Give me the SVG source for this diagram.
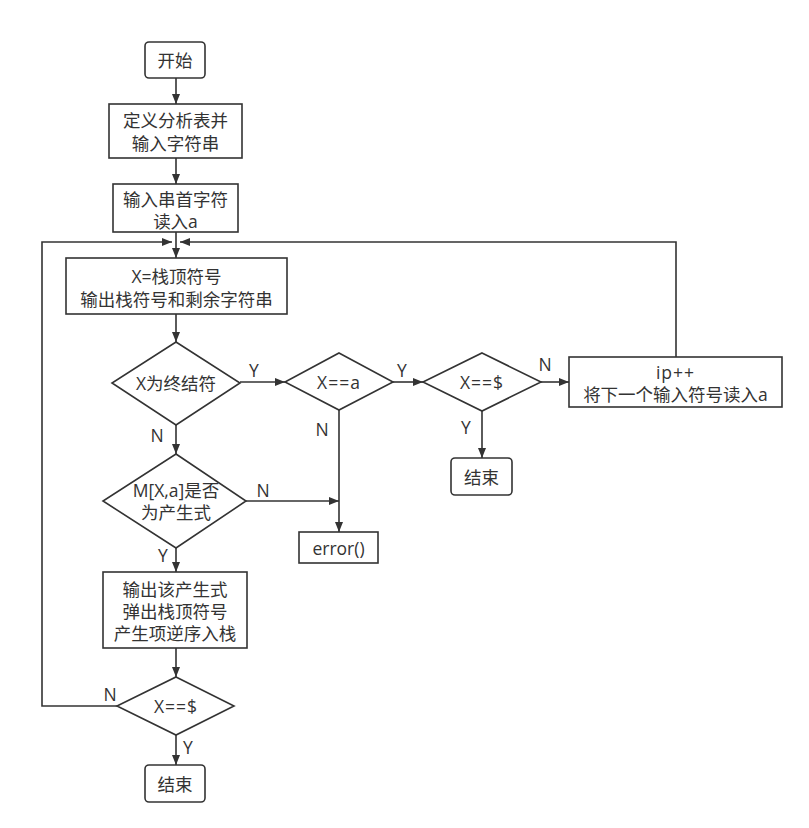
<svg xmlns="http://www.w3.org/2000/svg" width="809" height="828" viewBox="0 0 809 828">
<defs>
<marker id="ah" markerWidth="10" markerHeight="8" refX="10" refY="4" orient="auto" markerUnits="userSpaceOnUse">
<path d="M0,0 L10,4 L0,8 Z" fill="#333"/>
</marker>
<style>
.n{fill:#fff;stroke:#333;stroke-width:1.6}
.t{font-family:"Open Sans","Noto Sans CJK SC",sans-serif;font-size:17.5px;fill:#333;text-anchor:middle;dominant-baseline:central}
.l{letter-spacing:1px}
.c{fill:none;stroke:#333;stroke-width:1.6}
.a{marker-end:url(#ah)}
</style>
</defs>
<rect width="809" height="828" fill="#fff"/>
<g id="start"><rect class="n" x="145" y="42" width="60" height="36" rx="4"/><text class="t" x="175" y="60">开始</text></g>
<g id="define"><rect class="n" x="109" y="104" width="133" height="54"/><text class="t" x="175.5" y="120">定义分析表并</text><text class="t" x="175.5" y="143">输入字符串</text></g>
<g id="readfirst"><rect class="n" x="113" y="184" width="125" height="48"/><text class="t" x="175.5" y="199">输入串首字符</text><text class="t" x="175.5" y="221">读入a</text></g>
<g id="top"><rect class="n" x="66" y="258" width="221" height="56"/><text class="t" x="176.5" y="276">X=栈顶符号</text><text class="t" x="176.5" y="299">输出栈符号和剩余字符串</text></g>
<g id="isterm"><polygon class="n" points="176,342 240,383 176,425 112,383"/><text class="t" x="176" y="383">X为终结符</text></g>
<g id="eqa"><polygon class="n" points="339,353 393,382 339,410 285,382"/><text class="t l" x="339" y="382">X==a</text></g>
<g id="eqdollar1"><polygon class="n" points="482,353 541,382 482,411 423,382"/><text class="t l" x="482" y="382">X==$</text></g>
<g id="next"><rect class="n" x="569" y="357" width="213" height="50"/><text class="t l" x="675.5" y="372">ip++</text><text class="t" x="675.5" y="394">将下一个输入符号读入a</text></g>
<g id="end1"><rect class="n" x="451" y="458" width="61" height="37" rx="4"/><text class="t" x="481.5" y="476.5">结束</text></g>
<g id="isprod"><polygon class="n" points="176,454 246,501 176,548 103,501"/><text class="t" x="176" y="490">M[X,a]是否</text><text class="t" x="176" y="512">为产生式</text></g>
<g id="error"><rect class="n" x="299" y="532" width="79" height="31"/><text class="t" x="338.5" y="547.5">error()</text></g>
<g id="output"><rect class="n" x="103" y="572" width="144" height="76"/><text class="t" x="175" y="589">输出该产生式</text><text class="t" x="175" y="611">弹出栈顶符号</text><text class="t" x="175" y="633">产生项逆序入栈</text></g>
<g id="eqdollar2"><polygon class="n" points="176,677 234,706 176,735 117,706"/><text class="t l" x="176" y="706">X==$</text></g>
<g id="end2"><rect class="n" x="145" y="765" width="60" height="37" rx="4"/><text class="t" x="175" y="783.5">结束</text></g>
<g id="connectors">
<path class="c a" d="M176,78 V104"/>
<path class="c a" d="M176,158 V184"/>
<path class="c" d="M176,232 V242"/>
<path class="c a" d="M176,242 V258"/>
<path class="c a" d="M176,314 V342"/>
<path class="c a" d="M240,382 H285"/>
<path class="c a" d="M393,382 H423"/>
<path class="c a" d="M541,382 H569"/>
<path class="c a" d="M676,357 V242 H180"/>
<path class="c a" d="M482,411 V458"/>
<path class="c a" d="M176,425 V454"/>
<path class="c a" d="M339,410 V532"/>
<path class="c a" d="M246,501 H339"/>
<path class="c a" d="M176,548 V572"/>
<path class="c a" d="M176,648 V677"/>
<path class="c a" d="M117,706 H42 V242 H172"/>
<path class="c a" d="M176,735 V765"/>
</g>
<g id="labels">
<text class="t" x="254" y="370">Y</text>
<text class="t" x="402" y="370">Y</text>
<text class="t" x="545" y="364">N</text>
<text class="t" x="466" y="427">Y</text>
<text class="t" x="322" y="429">N</text>
<text class="t" x="157" y="435">N</text>
<text class="t" x="263" y="490">N</text>
<text class="t" x="163" y="555">Y</text>
<text class="t" x="110" y="694">N</text>
<text class="t" x="188" y="747">Y</text>
</g>
</svg>
